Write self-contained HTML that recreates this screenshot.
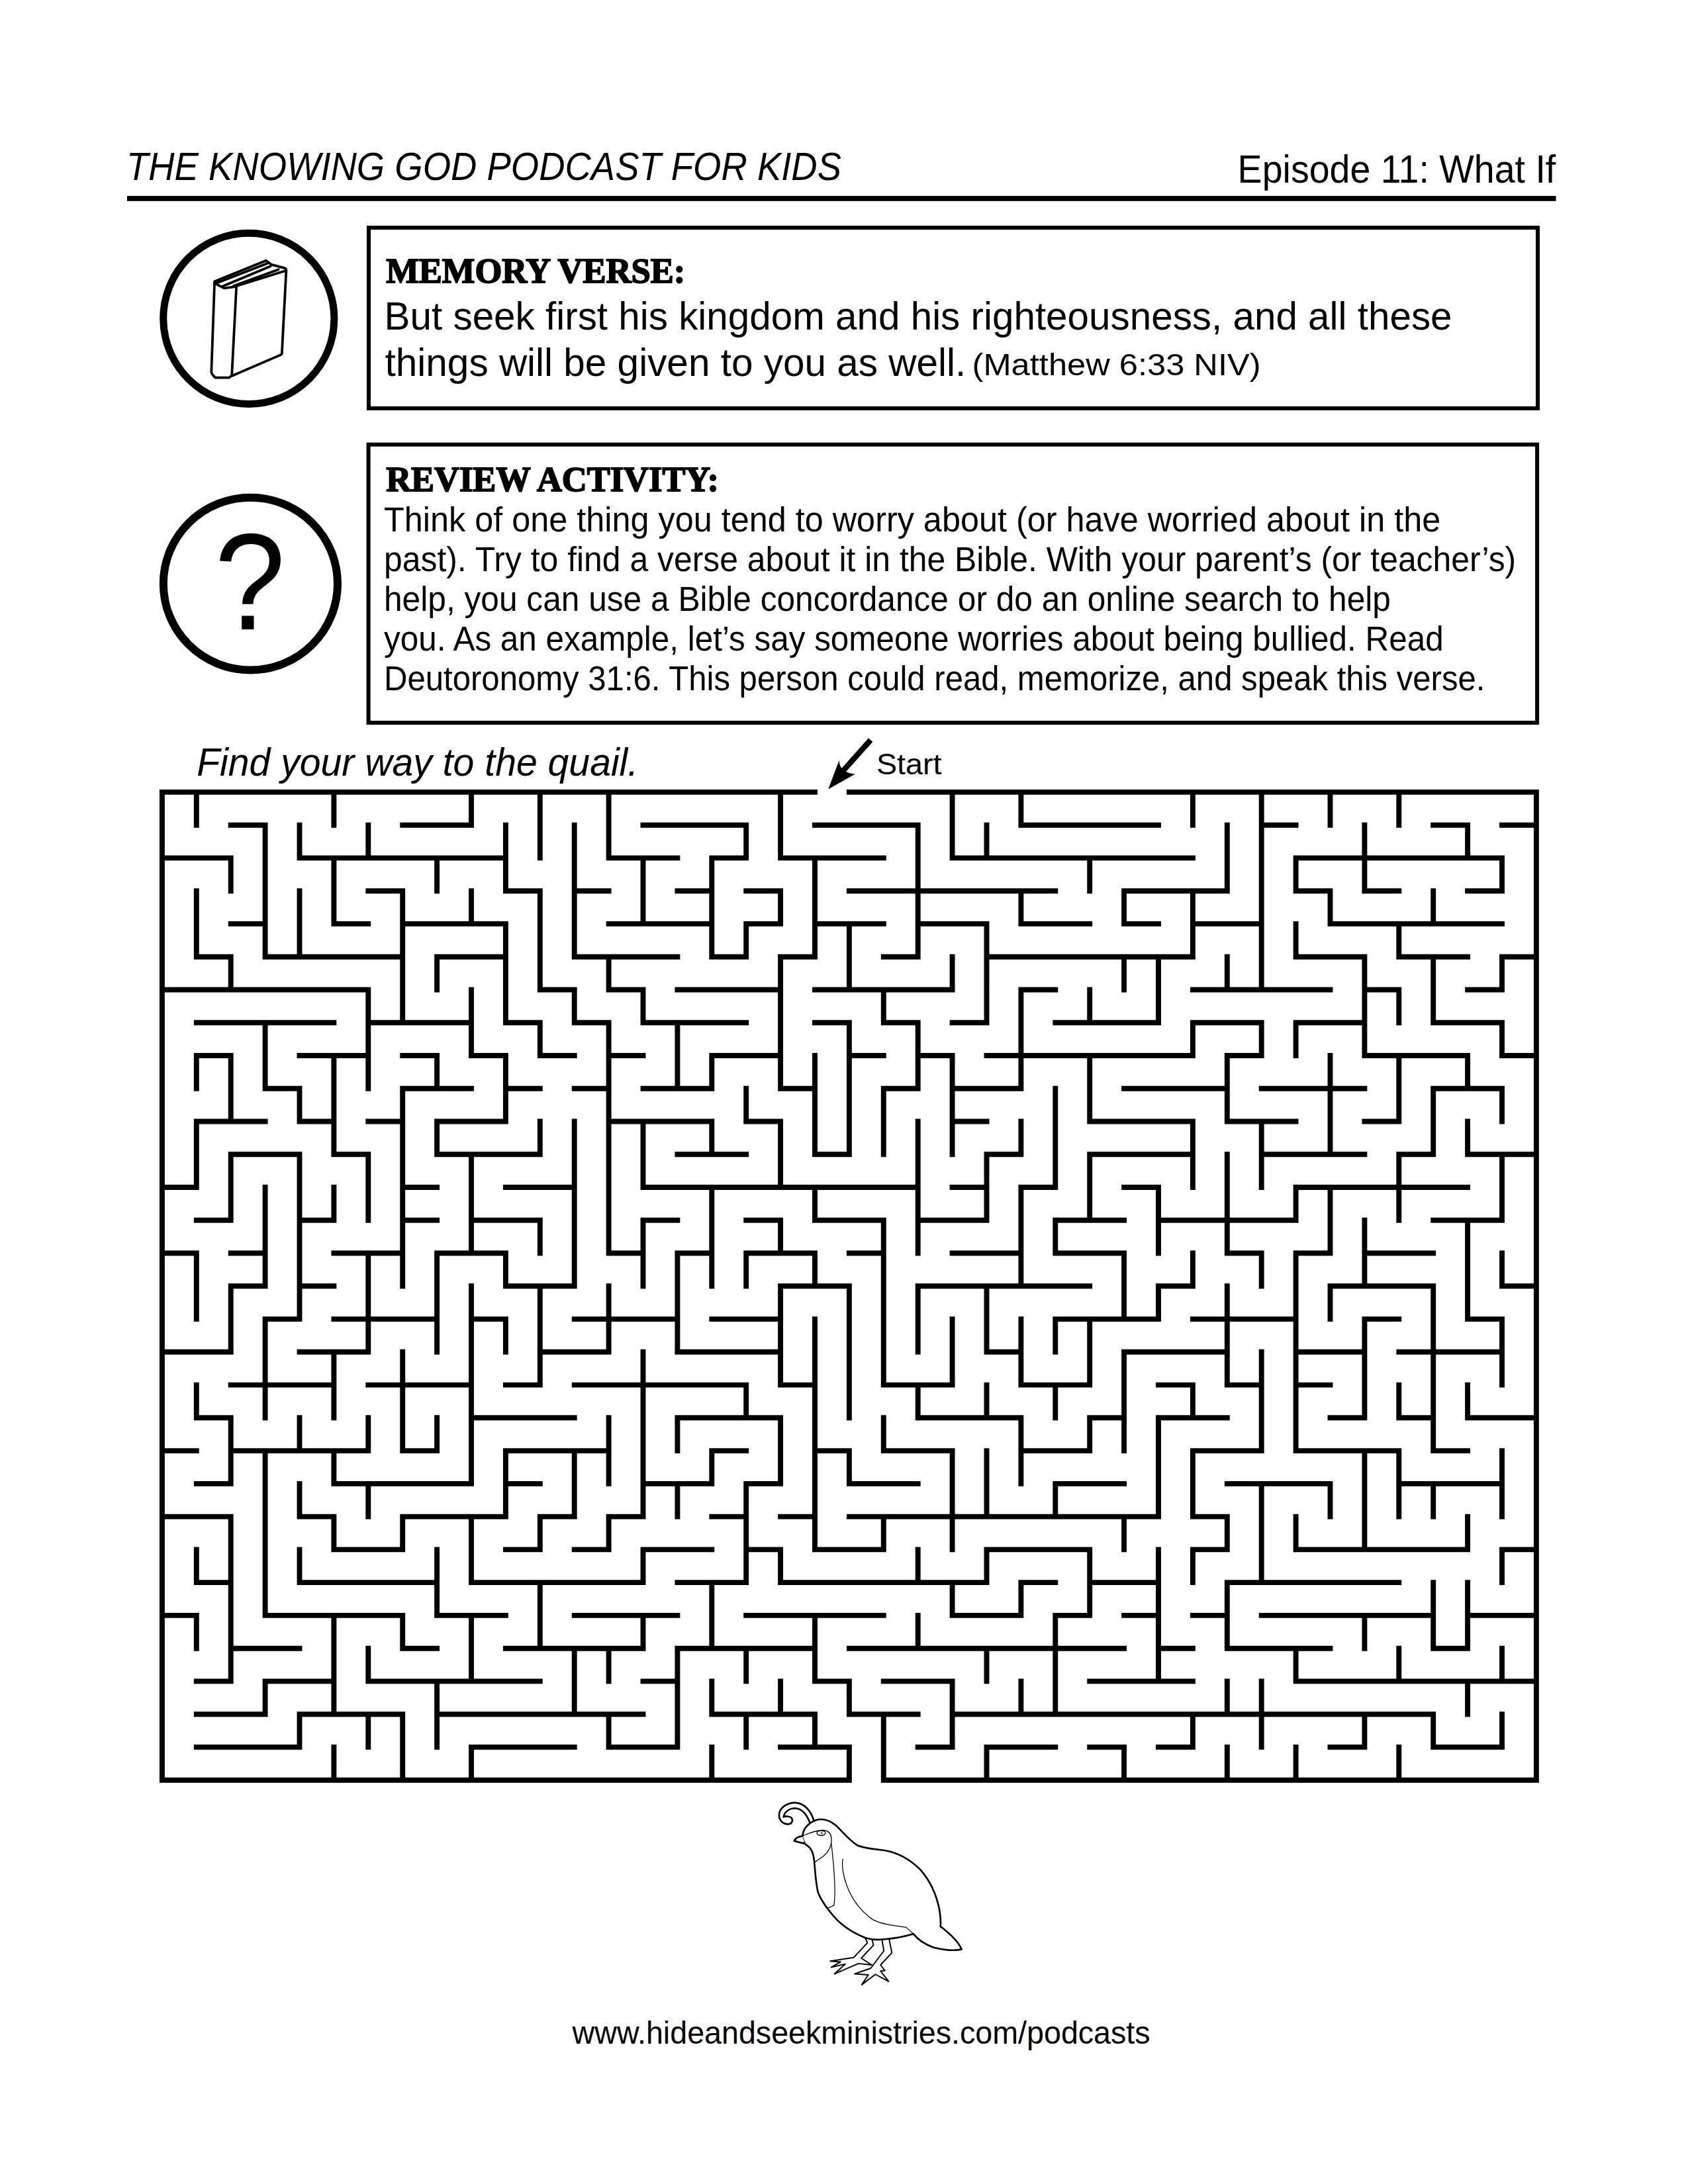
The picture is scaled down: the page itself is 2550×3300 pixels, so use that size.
<!DOCTYPE html>
<html><head><meta charset="utf-8"><style>
html,body{margin:0;padding:0;background:#fff;}
body{width:2550px;height:3300px;overflow:hidden;}
svg{display:block;}
</style></head><body>
<svg width="2550" height="3300" viewBox="0 0 2550 3300">
<rect width="2550" height="3300" fill="#fff"/>
<text x="191" y="272.2" style="font-family:'Liberation Sans',sans-serif;font-size:59.5px;font-style:italic" text-anchor="start" textLength="1080" lengthAdjust="spacingAndGlyphs">THE KNOWING GOD PODCAST FOR KIDS</text>
<text x="1869.6" y="276.4" style="font-family:'Liberation Sans',sans-serif;font-size:59px;" text-anchor="start" textLength="480.7" lengthAdjust="spacingAndGlyphs">Episode 11: What If</text>
<rect x="192" y="296" width="2158.5" height="7.8"/>
<circle cx="375.8" cy="481.3" r="129.1" fill="none" stroke="#000" stroke-width="11"/>
<g transform="translate(230,335) scale(0.17180)" fill="none" stroke="#000" stroke-width="22" stroke-linejoin="round" stroke-linecap="round">
<path d="M548 525 L1000 342 L1050 378 L1165 408 Q1180 415 1178 430 L1140 1160 Q1135 1170 1120 1175 L690 1360 L675 1372 L555 1372 Q520 1340 520 1320 Z"/>
<path d="M740 572 L700 1345"/>
<path d="M548 540 Q580 560 635 585 L720 572 L1160 435"/>
<path d="M565 540 L1015 365 M620 568 L1040 392 M715 565 L1110 420"/>
</g>
<rect x="557" y="344" width="1766" height="273" fill="none" stroke="#000" stroke-width="6"/>
<text x="583.2" y="427.0" style="font-family:'Liberation Serif',serif;font-size:52.5px;font-weight:bold;stroke:#000;stroke-width:1.8px" text-anchor="start" textLength="452" lengthAdjust="spacingAndGlyphs">MEMORY VERSE:</text>
<text x="580.6" y="498.3" style="font-family:'Liberation Sans',sans-serif;font-size:59px;" text-anchor="start" textLength="1613" lengthAdjust="spacingAndGlyphs">But seek first his kingdom and his righteousness, and all these</text>
<text x="581.6" y="568" style="font-family:'Liberation Sans',sans-serif;font-size:59px;" text-anchor="start" textLength="877.6" lengthAdjust="spacingAndGlyphs">things will be given to you as well.</text>
<text x="1468.6" y="566.8" style="font-family:'Liberation Sans',sans-serif;font-size:47px;" text-anchor="start" textLength="436" lengthAdjust="spacingAndGlyphs">(Matthew 6:33 NIV)</text>
<ellipse cx="378.4" cy="882.1" rx="131.6" ry="130.4" fill="none" stroke="#000" stroke-width="12"/>
<text x="324.1" y="950.6" style="font-family:'Liberation Sans',sans-serif;font-size:207px;" text-anchor="start" textLength="107" lengthAdjust="spacingAndGlyphs">?</text>
<rect x="556.6" y="671.7" width="1765.5" height="420.3" fill="none" stroke="#000" stroke-width="6"/>
<text x="583.2" y="742.1" style="font-family:'Liberation Serif',serif;font-size:52.5px;font-weight:bold;stroke:#000;stroke-width:1.8px" text-anchor="start" textLength="502.7" lengthAdjust="spacingAndGlyphs">REVIEW ACTIVITY:</text>
<text x="580" y="803.2" style="font-family:'Liberation Sans',sans-serif;font-size:51px;" text-anchor="start" textLength="1596.2" lengthAdjust="spacingAndGlyphs">Think of one thing you tend to worry about (or have worried about in the</text>
<text x="580" y="863.4" style="font-family:'Liberation Sans',sans-serif;font-size:51px;" text-anchor="start" textLength="1710.2" lengthAdjust="spacingAndGlyphs">past). Try to find a verse about it in the Bible. With your parent’s (or teacher’s)</text>
<text x="580" y="923.1" style="font-family:'Liberation Sans',sans-serif;font-size:51px;" text-anchor="start" textLength="1521" lengthAdjust="spacingAndGlyphs">help, you can use a Bible concordance or do an online search to help</text>
<text x="580" y="982.8" style="font-family:'Liberation Sans',sans-serif;font-size:51px;" text-anchor="start" textLength="1600.7" lengthAdjust="spacingAndGlyphs">you. As an example, let’s say someone worries about being bullied. Read</text>
<text x="580" y="1043.2" style="font-family:'Liberation Sans',sans-serif;font-size:51px;" text-anchor="start" textLength="1663.4" lengthAdjust="spacingAndGlyphs">Deutoronomy 31:6. This person could read, memorize, and speak this verse.</text>
<text x="297.2" y="1171.7" style="font-family:'Liberation Sans',sans-serif;font-size:59px;font-style:italic" text-anchor="start" textLength="667" lengthAdjust="spacingAndGlyphs">Find your way to the quail.</text>
<text x="1323.9" y="1170.4" style="font-family:'Liberation Sans',sans-serif;font-size:45px;" text-anchor="start" textLength="98.5" lengthAdjust="spacingAndGlyphs">Start</text>
<path d="M1315.2 1118.2 L1268 1171" stroke="#000" stroke-width="8.5" fill="none"/>
<path d="M1251.2 1192.5 L1267.7 1148.8 Q1268 1158 1272.5 1161.5 L1279.5 1166.5 Q1284 1169 1292 1169.6 Z"/>
<path d="M244.9 1196.9L1231.0 1196.9M1282.9 1196.9L2320.9 1196.9M348.7 1246.7L400.6 1246.7M608.2 1246.7L712.0 1246.7M971.5 1246.7L1127.2 1246.7M1231.0 1246.7L1386.7 1246.7M1542.4 1246.7L1750.0 1246.7M1905.7 1246.7L1957.6 1246.7M2165.2 1246.7L2217.1 1246.7M2269.0 1246.7L2320.9 1246.7M244.9 1296.4L348.7 1296.4M452.5 1296.4L763.9 1296.4M919.6 1296.4L1023.4 1296.4M1075.3 1296.4L1127.2 1296.4M1179.1 1296.4L1334.8 1296.4M1438.6 1296.4L1801.9 1296.4M1957.6 1296.4L2269.0 1296.4M556.3 1346.2L608.2 1346.2M763.9 1346.2L815.8 1346.2M867.7 1346.2L919.6 1346.2M1023.4 1346.2L1075.3 1346.2M1127.2 1346.2L1179.1 1346.2M1282.9 1346.2L1594.3 1346.2M1698.1 1346.2L1853.8 1346.2M1957.6 1346.2L2009.5 1346.2M2061.4 1346.2L2113.3 1346.2M2217.1 1346.2L2269.0 1346.2M348.7 1395.9L400.6 1395.9M504.4 1395.9L556.3 1395.9M608.2 1395.9L763.9 1395.9M919.6 1395.9L1075.3 1395.9M1127.2 1395.9L1179.1 1395.9M1231.0 1395.9L1334.8 1395.9M1386.7 1395.9L1490.5 1395.9M1542.4 1395.9L1646.2 1395.9M1698.1 1395.9L1750.0 1395.9M1801.9 1395.9L1905.7 1395.9M2009.5 1395.9L2269.0 1395.9M296.8 1445.7L348.7 1445.7M400.6 1445.7L608.2 1445.7M660.1 1445.7L763.9 1445.7M867.7 1445.7L1023.4 1445.7M1075.3 1445.7L1127.2 1445.7M1179.1 1445.7L1231.0 1445.7M1334.8 1445.7L1386.7 1445.7M1490.5 1445.7L1801.9 1445.7M1957.6 1445.7L2061.4 1445.7M2113.3 1445.7L2217.1 1445.7M2269.0 1445.7L2320.9 1445.7M244.9 1495.5L556.3 1495.5M815.8 1495.5L867.7 1495.5M919.6 1495.5L971.5 1495.5M1023.4 1495.5L1179.1 1495.5M1231.0 1495.5L1438.6 1495.5M1542.4 1495.5L1594.3 1495.5M1801.9 1495.5L2009.5 1495.5M2061.4 1495.5L2113.3 1495.5M2217.1 1495.5L2269.0 1495.5M296.8 1545.2L504.4 1545.2M556.3 1545.2L712.0 1545.2M763.9 1545.2L815.8 1545.2M867.7 1545.2L919.6 1545.2M971.5 1545.2L1127.2 1545.2M1231.0 1545.2L1282.9 1545.2M1334.8 1545.2L1386.7 1545.2M1438.6 1545.2L1490.5 1545.2M1594.3 1545.2L1750.0 1545.2M1801.9 1545.2L1905.7 1545.2M1957.6 1545.2L2061.4 1545.2M2165.2 1545.2L2269.0 1545.2M296.8 1595.0L348.7 1595.0M452.5 1595.0L556.3 1595.0M608.2 1595.0L660.1 1595.0M712.0 1595.0L763.9 1595.0M815.8 1595.0L867.7 1595.0M919.6 1595.0L971.5 1595.0M1075.3 1595.0L1179.1 1595.0M1282.9 1595.0L1334.8 1595.0M1386.7 1595.0L1438.6 1595.0M1490.5 1595.0L1801.9 1595.0M1853.8 1595.0L1905.7 1595.0M2061.4 1595.0L2217.1 1595.0M2269.0 1595.0L2320.9 1595.0M400.6 1644.7L452.5 1644.7M608.2 1644.7L712.0 1644.7M763.9 1644.7L815.8 1644.7M867.7 1644.7L919.6 1644.7M971.5 1644.7L1075.3 1644.7M1179.1 1644.7L1231.0 1644.7M1334.8 1644.7L1386.7 1644.7M1438.6 1644.7L1542.4 1644.7M1698.1 1644.7L1853.8 1644.7M1905.7 1644.7L2061.4 1644.7M2165.2 1644.7L2269.0 1644.7M296.8 1694.5L400.6 1694.5M452.5 1694.5L504.4 1694.5M556.3 1694.5L608.2 1694.5M660.1 1694.5L763.9 1694.5M919.6 1694.5L1075.3 1694.5M1127.2 1694.5L1179.1 1694.5M1438.6 1694.5L1490.5 1694.5M1646.2 1694.5L1801.9 1694.5M1853.8 1694.5L1957.6 1694.5M2061.4 1694.5L2113.3 1694.5M348.7 1744.3L452.5 1744.3M504.4 1744.3L556.3 1744.3M660.1 1744.3L815.8 1744.3M1023.4 1744.3L1127.2 1744.3M1231.0 1744.3L1282.9 1744.3M1490.5 1744.3L1542.4 1744.3M1646.2 1744.3L1801.9 1744.3M1905.7 1744.3L2061.4 1744.3M2113.3 1744.3L2165.2 1744.3M2217.1 1744.3L2320.9 1744.3M244.9 1794.0L296.8 1794.0M608.2 1794.0L660.1 1794.0M763.9 1794.0L867.7 1794.0M971.5 1794.0L1386.7 1794.0M1438.6 1794.0L1490.5 1794.0M1542.4 1794.0L1594.3 1794.0M1698.1 1794.0L1750.0 1794.0M1957.6 1794.0L2217.1 1794.0M296.8 1843.8L348.7 1843.8M452.5 1843.8L504.4 1843.8M608.2 1843.8L660.1 1843.8M712.0 1843.8L815.8 1843.8M971.5 1843.8L1023.4 1843.8M1127.2 1843.8L1179.1 1843.8M1231.0 1843.8L1334.8 1843.8M1386.7 1843.8L1490.5 1843.8M1594.3 1843.8L1698.1 1843.8M1750.0 1843.8L1957.6 1843.8M2165.2 1843.8L2269.0 1843.8M244.9 1893.5L296.8 1893.5M348.7 1893.5L400.6 1893.5M504.4 1893.5L608.2 1893.5M660.1 1893.5L763.9 1893.5M919.6 1893.5L971.5 1893.5M1023.4 1893.5L1075.3 1893.5M1127.2 1893.5L1231.0 1893.5M1282.9 1893.5L1334.8 1893.5M1438.6 1893.5L1542.4 1893.5M1594.3 1893.5L1698.1 1893.5M1853.8 1893.5L1905.7 1893.5M1957.6 1893.5L2009.5 1893.5M2061.4 1893.5L2165.2 1893.5M348.7 1943.3L400.6 1943.3M452.5 1943.3L504.4 1943.3M763.9 1943.3L867.7 1943.3M1179.1 1943.3L1282.9 1943.3M1386.7 1943.3L1646.2 1943.3M1750.0 1943.3L1801.9 1943.3M2009.5 1943.3L2165.2 1943.3M2269.0 1943.3L2320.9 1943.3M400.6 1993.1L452.5 1993.1M504.4 1993.1L660.1 1993.1M712.0 1993.1L763.9 1993.1M867.7 1993.1L1023.4 1993.1M1075.3 1993.1L1179.1 1993.1M1594.3 1993.1L1750.0 1993.1M1801.9 1993.1L1957.6 1993.1M2061.4 1993.1L2113.3 1993.1M2217.1 1993.1L2269.0 1993.1M244.9 2042.8L348.7 2042.8M452.5 2042.8L556.3 2042.8M815.8 2042.8L919.6 2042.8M1023.4 2042.8L1179.1 2042.8M1490.5 2042.8L1542.4 2042.8M1698.1 2042.8L1853.8 2042.8M1957.6 2042.8L2061.4 2042.8M2113.3 2042.8L2269.0 2042.8M348.7 2092.6L504.4 2092.6M556.3 2092.6L712.0 2092.6M763.9 2092.6L815.8 2092.6M867.7 2092.6L1127.2 2092.6M1179.1 2092.6L1231.0 2092.6M1334.8 2092.6L1438.6 2092.6M1542.4 2092.6L1646.2 2092.6M1750.0 2092.6L1801.9 2092.6M1853.8 2092.6L1905.7 2092.6M1957.6 2092.6L2009.5 2092.6M296.8 2142.3L348.7 2142.3M712.0 2142.3L867.7 2142.3M1023.4 2142.3L1179.1 2142.3M1386.7 2142.3L1542.4 2142.3M1646.2 2142.3L1698.1 2142.3M1750.0 2142.3L1853.8 2142.3M2009.5 2142.3L2061.4 2142.3M2113.3 2142.3L2165.2 2142.3M2217.1 2142.3L2320.9 2142.3M244.9 2192.1L296.8 2192.1M348.7 2192.1L556.3 2192.1M608.2 2192.1L660.1 2192.1M763.9 2192.1L919.6 2192.1M1075.3 2192.1L1127.2 2192.1M1231.0 2192.1L1282.9 2192.1M1334.8 2192.1L1438.6 2192.1M1542.4 2192.1L1646.2 2192.1M1801.9 2192.1L1905.7 2192.1M1957.6 2192.1L2113.3 2192.1M2165.2 2192.1L2217.1 2192.1M296.8 2241.9L348.7 2241.9M504.4 2241.9L712.0 2241.9M763.9 2241.9L815.8 2241.9M971.5 2241.9L1075.3 2241.9M1127.2 2241.9L1179.1 2241.9M1282.9 2241.9L1386.7 2241.9M1594.3 2241.9L1698.1 2241.9M1853.8 2241.9L2009.5 2241.9M2113.3 2241.9L2269.0 2241.9M244.9 2291.6L348.7 2291.6M452.5 2291.6L504.4 2291.6M608.2 2291.6L763.9 2291.6M815.8 2291.6L867.7 2291.6M919.6 2291.6L971.5 2291.6M1075.3 2291.6L1127.2 2291.6M1179.1 2291.6L1231.0 2291.6M1282.9 2291.6L1750.0 2291.6M1801.9 2291.6L1853.8 2291.6M504.4 2341.4L608.2 2341.4M763.9 2341.4L815.8 2341.4M867.7 2341.4L919.6 2341.4M971.5 2341.4L1075.3 2341.4M1127.2 2341.4L1179.1 2341.4M1231.0 2341.4L1334.8 2341.4M1490.5 2341.4L1646.2 2341.4M1801.9 2341.4L1853.8 2341.4M1957.6 2341.4L2217.1 2341.4M2269.0 2341.4L2320.9 2341.4M296.8 2391.1L348.7 2391.1M452.5 2391.1L660.1 2391.1M712.0 2391.1L971.5 2391.1M1023.4 2391.1L1127.2 2391.1M1179.1 2391.1L1490.5 2391.1M1542.4 2391.1L1594.3 2391.1M1646.2 2391.1L1750.0 2391.1M1853.8 2391.1L2113.3 2391.1M244.9 2440.9L296.8 2440.9M400.6 2440.9L608.2 2440.9M660.1 2440.9L763.9 2440.9M867.7 2440.9L1023.4 2440.9M1127.2 2440.9L1334.8 2440.9M1438.6 2440.9L1542.4 2440.9M1594.3 2440.9L1646.2 2440.9M1698.1 2440.9L1750.0 2440.9M1801.9 2440.9L1853.8 2440.9M1905.7 2440.9L2165.2 2440.9M2217.1 2440.9L2320.9 2440.9M348.7 2490.7L452.5 2490.7M608.2 2490.7L660.1 2490.7M763.9 2490.7L971.5 2490.7M1023.4 2490.7L1231.0 2490.7M1282.9 2490.7L1698.1 2490.7M1750.0 2490.7L1801.9 2490.7M1853.8 2490.7L2009.5 2490.7M2165.2 2490.7L2217.1 2490.7M296.8 2540.4L348.7 2540.4M400.6 2540.4L504.4 2540.4M556.3 2540.4L815.8 2540.4M971.5 2540.4L1023.4 2540.4M1231.0 2540.4L1282.9 2540.4M1334.8 2540.4L1438.6 2540.4M1646.2 2540.4L1801.9 2540.4M1957.6 2540.4L2320.9 2540.4M296.8 2590.2L400.6 2590.2M452.5 2590.2L608.2 2590.2M660.1 2590.2L971.5 2590.2M1075.3 2590.2L1231.0 2590.2M1282.9 2590.2L1386.7 2590.2M1438.6 2590.2L2165.2 2590.2M296.8 2639.9L452.5 2639.9M712.0 2639.9L867.7 2639.9M919.6 2639.9L1023.4 2639.9M1179.1 2639.9L1282.9 2639.9M1386.7 2639.9L1438.6 2639.9M1490.5 2639.9L1594.3 2639.9M1646.2 2639.9L1698.1 2639.9M1750.0 2639.9L1801.9 2639.9M2009.5 2639.9L2061.4 2639.9M2165.2 2639.9L2269.0 2639.9M244.9 2689.7L1282.9 2689.7M1334.8 2689.7L2320.9 2689.7M244.9 1196.9L244.9 2689.7M296.8 1196.9L296.8 1246.7M296.8 1346.2L296.8 1445.7M296.8 1595.0L296.8 1644.7M296.8 1694.5L296.8 1794.0M296.8 1893.5L296.8 1993.1M296.8 2092.6L296.8 2142.3M296.8 2341.4L296.8 2391.1M296.8 2440.9L296.8 2490.7M348.7 1296.4L348.7 1346.2M348.7 1445.7L348.7 1495.5M348.7 1595.0L348.7 1694.5M348.7 1744.3L348.7 1843.8M348.7 1943.3L348.7 2042.8M348.7 2142.3L348.7 2241.9M348.7 2291.6L348.7 2540.4M400.6 1246.7L400.6 1445.7M400.6 1545.2L400.6 1644.7M400.6 1794.0L400.6 1943.3M400.6 1993.1L400.6 2142.3M400.6 2192.1L400.6 2440.9M400.6 2540.4L400.6 2590.2M452.5 1246.7L452.5 1296.4M452.5 1346.2L452.5 1445.7M452.5 1644.7L452.5 1694.5M452.5 1744.3L452.5 1993.1M452.5 2142.3L452.5 2192.1M452.5 2241.9L452.5 2291.6M452.5 2341.4L452.5 2391.1M452.5 2590.2L452.5 2639.9M504.4 1196.9L504.4 1246.7M504.4 1296.4L504.4 1395.9M504.4 1595.0L504.4 1744.3M504.4 1794.0L504.4 1843.8M504.4 2042.8L504.4 2142.3M504.4 2192.1L504.4 2241.9M504.4 2291.6L504.4 2341.4M504.4 2440.9L504.4 2590.2M504.4 2639.9L504.4 2689.7M556.3 1246.7L556.3 1296.4M556.3 1495.5L556.3 1644.7M556.3 1744.3L556.3 1843.8M556.3 1893.5L556.3 2042.8M556.3 2142.3L556.3 2192.1M556.3 2241.9L556.3 2291.6M556.3 2490.7L556.3 2540.4M556.3 2590.2L556.3 2639.9M608.2 1346.2L608.2 1545.2M608.2 1644.7L608.2 1943.3M608.2 2042.8L608.2 2192.1M608.2 2291.6L608.2 2341.4M608.2 2440.9L608.2 2490.7M608.2 2590.2L608.2 2689.7M660.1 1296.4L660.1 1346.2M660.1 1445.7L660.1 1495.5M660.1 1595.0L660.1 1644.7M660.1 1694.5L660.1 1744.3M660.1 1893.5L660.1 2042.8M660.1 2142.3L660.1 2192.1M660.1 2341.4L660.1 2440.9M660.1 2540.4L660.1 2639.9M712.0 1196.9L712.0 1246.7M712.0 1346.2L712.0 1395.9M712.0 1495.5L712.0 1595.0M712.0 1744.3L712.0 1893.5M712.0 1943.3L712.0 2241.9M712.0 2291.6L712.0 2391.1M712.0 2440.9L712.0 2540.4M712.0 2639.9L712.0 2689.7M763.9 1246.7L763.9 1346.2M763.9 1395.9L763.9 1545.2M763.9 1595.0L763.9 1694.5M763.9 1893.5L763.9 1943.3M763.9 1993.1L763.9 2042.8M763.9 2192.1L763.9 2291.6M815.8 1196.9L815.8 1296.4M815.8 1346.2L815.8 1495.5M815.8 1545.2L815.8 1595.0M815.8 1694.5L815.8 1744.3M815.8 1843.8L815.8 1893.5M815.8 1943.3L815.8 2092.6M815.8 2291.6L815.8 2341.4M815.8 2391.1L815.8 2490.7M867.7 1246.7L867.7 1445.7M867.7 1495.5L867.7 1545.2M867.7 1694.5L867.7 1943.3M867.7 2192.1L867.7 2291.6M867.7 2490.7L867.7 2590.2M919.6 1196.9L919.6 1296.4M919.6 1445.7L919.6 1495.5M919.6 1545.2L919.6 1893.5M919.6 1943.3L919.6 2042.8M919.6 2142.3L919.6 2241.9M919.6 2291.6L919.6 2341.4M919.6 2490.7L919.6 2540.4M919.6 2590.2L919.6 2639.9M971.5 1296.4L971.5 1395.9M971.5 1495.5L971.5 1545.2M971.5 1694.5L971.5 1794.0M971.5 1843.8L971.5 1943.3M971.5 2042.8L971.5 2291.6M971.5 2341.4L971.5 2391.1M971.5 2440.9L971.5 2490.7M1023.4 1545.2L1023.4 1644.7M1023.4 1893.5L1023.4 2042.8M1023.4 2142.3L1023.4 2192.1M1023.4 2241.9L1023.4 2291.6M1023.4 2490.7L1023.4 2639.9M1075.3 1296.4L1075.3 1445.7M1075.3 1595.0L1075.3 1644.7M1075.3 1694.5L1075.3 1744.3M1075.3 1794.0L1075.3 1943.3M1075.3 2192.1L1075.3 2241.9M1075.3 2391.1L1075.3 2490.7M1075.3 2540.4L1075.3 2590.2M1075.3 2639.9L1075.3 2689.7M1127.2 1246.7L1127.2 1296.4M1127.2 1395.9L1127.2 1445.7M1127.2 1644.7L1127.2 1694.5M1127.2 1893.5L1127.2 1943.3M1127.2 2092.6L1127.2 2142.3M1127.2 2241.9L1127.2 2391.1M1127.2 2490.7L1127.2 2540.4M1127.2 2590.2L1127.2 2639.9M1179.1 1196.9L1179.1 1296.4M1179.1 1346.2L1179.1 1395.9M1179.1 1445.7L1179.1 1644.7M1179.1 1694.5L1179.1 1794.0M1179.1 1843.8L1179.1 1893.5M1179.1 1943.3L1179.1 2092.6M1179.1 2142.3L1179.1 2241.9M1179.1 2341.4L1179.1 2391.1M1179.1 2540.4L1179.1 2590.2M1231.0 1296.4L1231.0 1445.7M1231.0 1595.0L1231.0 1744.3M1231.0 1794.0L1231.0 1843.8M1231.0 1893.5L1231.0 1943.3M1231.0 1993.1L1231.0 2341.4M1231.0 2440.9L1231.0 2540.4M1231.0 2590.2L1231.0 2639.9M1282.9 1395.9L1282.9 1495.5M1282.9 1545.2L1282.9 1744.3M1282.9 1943.3L1282.9 2142.3M1282.9 2192.1L1282.9 2241.9M1282.9 2540.4L1282.9 2590.2M1282.9 2639.9L1282.9 2689.7M1334.8 1495.5L1334.8 1545.2M1334.8 1644.7L1334.8 1744.3M1334.8 1843.8L1334.8 2092.6M1334.8 2142.3L1334.8 2192.1M1334.8 2291.6L1334.8 2341.4M1334.8 2590.2L1334.8 2689.7M1386.7 1246.7L1386.7 1445.7M1386.7 1545.2L1386.7 1644.7M1386.7 1694.5L1386.7 1893.5M1386.7 1943.3L1386.7 2042.8M1386.7 2092.6L1386.7 2142.3M1386.7 2341.4L1386.7 2391.1M1386.7 2440.9L1386.7 2490.7M1438.6 1196.9L1438.6 1296.4M1438.6 1445.7L1438.6 1495.5M1438.6 1595.0L1438.6 1744.3M1438.6 1993.1L1438.6 2092.6M1438.6 2192.1L1438.6 2341.4M1438.6 2391.1L1438.6 2440.9M1438.6 2540.4L1438.6 2639.9M1490.5 1246.7L1490.5 1296.4M1490.5 1395.9L1490.5 1545.2M1490.5 1744.3L1490.5 1843.8M1490.5 1943.3L1490.5 2042.8M1490.5 2092.6L1490.5 2142.3M1490.5 2192.1L1490.5 2291.6M1490.5 2341.4L1490.5 2391.1M1490.5 2490.7L1490.5 2540.4M1490.5 2639.9L1490.5 2689.7M1542.4 1196.9L1542.4 1246.7M1542.4 1346.2L1542.4 1395.9M1542.4 1495.5L1542.4 1644.7M1542.4 1694.5L1542.4 1744.3M1542.4 1794.0L1542.4 1943.3M1542.4 1993.1L1542.4 2092.6M1542.4 2142.3L1542.4 2241.9M1542.4 2391.1L1542.4 2440.9M1542.4 2540.4L1542.4 2590.2M1594.3 1644.7L1594.3 1794.0M1594.3 1843.8L1594.3 1893.5M1594.3 1993.1L1594.3 2042.8M1594.3 2092.6L1594.3 2142.3M1594.3 2241.9L1594.3 2291.6M1594.3 2440.9L1594.3 2590.2M1646.2 1296.4L1646.2 1346.2M1646.2 1495.5L1646.2 1545.2M1646.2 1595.0L1646.2 1694.5M1646.2 1744.3L1646.2 1843.8M1646.2 1993.1L1646.2 2092.6M1646.2 2142.3L1646.2 2192.1M1646.2 2341.4L1646.2 2440.9M1698.1 1346.2L1698.1 1395.9M1698.1 1445.7L1698.1 1495.5M1698.1 1893.5L1698.1 1993.1M1698.1 2042.8L1698.1 2192.1M1698.1 2291.6L1698.1 2341.4M1698.1 2639.9L1698.1 2689.7M1750.0 1445.7L1750.0 1545.2M1750.0 1794.0L1750.0 1893.5M1750.0 1943.3L1750.0 1993.1M1750.0 2142.3L1750.0 2291.6M1750.0 2341.4L1750.0 2540.4M1801.9 1196.9L1801.9 1246.7M1801.9 1346.2L1801.9 1445.7M1801.9 1545.2L1801.9 1595.0M1801.9 1694.5L1801.9 1794.0M1801.9 1893.5L1801.9 1943.3M1801.9 2092.6L1801.9 2142.3M1801.9 2192.1L1801.9 2291.6M1801.9 2341.4L1801.9 2391.1M1801.9 2590.2L1801.9 2639.9M1853.8 1246.7L1853.8 1346.2M1853.8 1445.7L1853.8 1495.5M1853.8 1595.0L1853.8 1694.5M1853.8 1744.3L1853.8 1893.5M1853.8 1943.3L1853.8 2092.6M1853.8 2291.6L1853.8 2341.4M1853.8 2391.1L1853.8 2490.7M1853.8 2540.4L1853.8 2590.2M1853.8 2639.9L1853.8 2689.7M1905.7 1196.9L1905.7 1495.5M1905.7 1545.2L1905.7 1595.0M1905.7 1694.5L1905.7 1794.0M1905.7 1893.5L1905.7 1943.3M1905.7 2042.8L1905.7 2192.1M1905.7 2241.9L1905.7 2391.1M1905.7 2540.4L1905.7 2639.9M1957.6 1296.4L1957.6 1346.2M1957.6 1395.9L1957.6 1445.7M1957.6 1545.2L1957.6 1595.0M1957.6 1794.0L1957.6 1843.8M1957.6 1893.5L1957.6 2192.1M1957.6 2291.6L1957.6 2341.4M1957.6 2490.7L1957.6 2540.4M1957.6 2639.9L1957.6 2689.7M2009.5 1196.9L2009.5 1246.7M2009.5 1346.2L2009.5 1395.9M2009.5 1595.0L2009.5 1744.3M2009.5 1794.0L2009.5 1893.5M2009.5 1943.3L2009.5 1993.1M2009.5 2241.9L2009.5 2291.6M2061.4 1246.7L2061.4 1346.2M2061.4 1445.7L2061.4 1595.0M2061.4 1843.8L2061.4 1943.3M2061.4 1993.1L2061.4 2142.3M2061.4 2192.1L2061.4 2341.4M2061.4 2440.9L2061.4 2490.7M2061.4 2590.2L2061.4 2639.9M2113.3 1196.9L2113.3 1246.7M2113.3 1395.9L2113.3 1445.7M2113.3 1495.5L2113.3 1545.2M2113.3 1595.0L2113.3 1694.5M2113.3 1744.3L2113.3 1843.8M2113.3 2092.6L2113.3 2142.3M2113.3 2192.1L2113.3 2291.6M2113.3 2490.7L2113.3 2540.4M2113.3 2639.9L2113.3 2689.7M2165.2 1346.2L2165.2 1395.9M2165.2 1445.7L2165.2 1545.2M2165.2 1644.7L2165.2 1744.3M2165.2 1943.3L2165.2 2192.1M2165.2 2241.9L2165.2 2291.6M2165.2 2391.1L2165.2 2490.7M2165.2 2590.2L2165.2 2639.9M2217.1 1246.7L2217.1 1296.4M2217.1 1595.0L2217.1 1644.7M2217.1 1694.5L2217.1 1744.3M2217.1 1843.8L2217.1 1993.1M2217.1 2092.6L2217.1 2142.3M2217.1 2291.6L2217.1 2341.4M2217.1 2391.1L2217.1 2490.7M2217.1 2540.4L2217.1 2590.2M2269.0 1296.4L2269.0 1346.2M2269.0 1445.7L2269.0 1495.5M2269.0 1545.2L2269.0 1595.0M2269.0 1644.7L2269.0 1694.5M2269.0 1744.3L2269.0 1843.8M2269.0 1893.5L2269.0 1943.3M2269.0 1993.1L2269.0 2092.6M2269.0 2192.1L2269.0 2291.6M2269.0 2341.4L2269.0 2391.1M2269.0 2490.7L2269.0 2540.4M2269.0 2590.2L2269.0 2639.9M2320.9 1196.9L2320.9 2689.7" stroke="#000" stroke-width="7.9" stroke-linecap="square" fill="none"/>
<g transform="translate(1150,2700) scale(0.19550)" fill="none" stroke="#000" stroke-linejoin="round" stroke-linecap="round">
<g stroke-width="13.5">
<path d="M405 255 C385 190 335 125 265 122 C195 120 140 165 138 215 C136 265 175 290 210 288 C240 285 248 255 232 238 C215 225 185 225 172 232 C180 190 220 165 262 165 C310 168 350 210 375 275"/>
<path d="M320 372 C325 320 370 270 440 252 C500 245 545 270 580 300 C640 360 690 420 740 450 C790 475 860 478 960 492 C1060 510 1150 560 1230 640 C1300 720 1350 820 1375 940 C1385 1000 1388 1050 1385 1080 L1400 1090 C1460 1140 1520 1190 1548 1255 C1500 1268 1420 1262 1330 1240 C1260 1215 1210 1180 1175 1135 C1130 1150 1050 1168 950 1178 C880 1185 830 1175 800 1165 C700 1125 620 1070 560 1000 C500 930 450 860 435 800 C420 720 415 640 410 580 C405 520 395 490 370 465 C345 445 335 440 330 430"/>
<path d="M322 378 L285 388 Q262 398 255 418 L332 438"/>
</g>
<g stroke-width="6.5">
<path d="M325 376 C380 352 430 335 480 335 C520 338 540 360 542 400 C545 450 525 500 475 540 L415 580"/>
<ellipse cx="463" cy="357" rx="33" ry="19"/>
<path d="M540 430 C552 520 562 620 566 720 C570 800 568 870 562 915 L510 940"/>
<path d="M630 558 C622 600 630 680 660 760 C700 870 770 960 860 1025 C930 1060 1000 1070 1120 1085 L1175 1135"/>
</g>
<circle cx="466" cy="357" r="6" fill="none" stroke="#000" stroke-width="4"/>
<path d="M316 377 L338 426" stroke-width="5"/>
<g stroke-width="10">
<path d="M803.9 1168.9 L820.3 1205.3 L714.9 1318 L533.1 1347 L613.1 1352.5 L540.4 1394.3 L649.4 1368.8 L565.8 1445.2 L751.2 1365.2 L853 1376.1 L773 1323.4 L867.5 1223.4 L856.6 1179.8"/>
<path d="M933 1183.5 L947.5 1267.1 L845.7 1401.6 L722.1 1445.2 L827.5 1452.5 L776.6 1528.8 L882.1 1448.8 L983.8 1503.3 L922 1423.4 L954.8 1419.7 L922 1376.1 L1009.3 1281.6 L987.5 1172.6"/>
</g>
</g>
<text x="864.6" y="3088.3" style="font-family:'Liberation Sans',sans-serif;font-size:48px;" text-anchor="start" textLength="873" lengthAdjust="spacingAndGlyphs">www.hideandseekministries.com/podcasts</text>
</svg>
</body></html>
